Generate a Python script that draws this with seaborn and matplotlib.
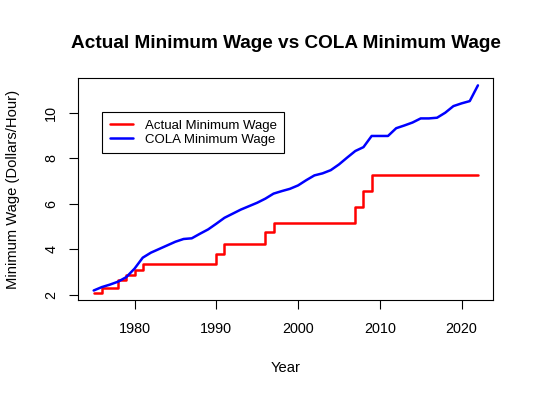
import matplotlib
matplotlib.use("Agg")
import matplotlib.pyplot as plt
import seaborn as sns
import pandas as pd

# ---- data ----
actual_years = [1975, 1976, 1978, 1979, 1980, 1981, 1990, 1991, 1996, 1997,
                2007, 2008, 2009, 2022]
actual_wage = [2.10, 2.30, 2.65, 2.90, 3.10, 3.35, 3.80, 4.25, 4.75, 5.15,
               5.85, 6.55, 7.25, 7.25]

cola_years = list(range(1975, 2023))
cola_wage = [2.20, 2.35, 2.46, 2.59, 2.79, 3.16, 3.64, 3.86, 4.02, 4.18,
             4.34, 4.46, 4.49, 4.69, 4.88, 5.13, 5.39, 5.57, 5.75, 5.90,
             6.05, 6.23, 6.45, 6.56, 6.66, 6.81, 7.04, 7.25, 7.34, 7.48,
             7.73, 8.03, 8.32, 8.49, 8.98, 8.98, 8.98, 9.32, 9.44, 9.57,
             9.75, 9.75, 9.78, 10.00, 10.29, 10.41, 10.51, 11.20]

x_ticks = [1980, 1990, 2000, 2010, 2020]
y_ticks = [2, 4, 6, 8, 10]

title = "Actual Minimum Wage vs COLA Minimum Wage"
x_label = "Year"
y_label = "Minimum Wage (Dollars/Hour)"
labels = ["Actual Minimum Wage", "COLA Minimum Wage"]

# ---- style ----
sns.set_theme(style="ticks")
plt.rcParams["font.family"] = ["Liberation Sans", "DejaVu Sans"]
plt.rcParams["axes.edgecolor"] = "black"
plt.rcParams["axes.linewidth"] = 0.8
plt.rcParams["xtick.color"] = "black"
plt.rcParams["ytick.color"] = "black"
plt.rcParams["xtick.labelcolor"] = "black"
plt.rcParams["ytick.labelcolor"] = "black"
plt.rcParams["text.color"] = "black"
plt.rcParams["axes.labelcolor"] = "black"

fig = plt.figure(figsize=(5.34, 3.98), dpi=100)
ax = fig.add_axes([78.3 / 534, 1 - 300.3 / 398, 415 / 534, 222 / 398])

df_a = pd.DataFrame({"Year": actual_years, "Wage": actual_wage})
df_c = pd.DataFrame({"Year": cola_years, "Wage": cola_wage})

sns.lineplot(data=df_a, x="Year", y="Wage", ax=ax, color="#FF0000",
             linewidth=1.8, drawstyle="steps-post", label=labels[0])
sns.lineplot(data=df_c, x="Year", y="Wage", ax=ax, color="#0000FF",
             linewidth=1.8, label=labels[1])

ax.set_xlim(1973.12, 2023.88)
ax.set_ylim(1.77, 11.51)
ax.set_xticks(x_ticks)
ax.set_xticklabels([str(t) for t in x_ticks], fontsize=10.4, color="black")
ax.set_yticks(y_ticks)
ax.set_yticklabels([str(t) for t in y_ticks], fontsize=10.4, color="black",
                   rotation=90, va="center")
ax.tick_params(axis="both", length=6.5, width=0.8, direction="out",
               colors="black")
ax.tick_params(axis="x", pad=9)
ax.tick_params(axis="y", pad=8)

for s in ax.spines.values():
    s.set_visible(True)
    s.set_color("black")
    s.set_linewidth(0.8)

ax.set_xlabel("")
ax.set_ylabel("")
fig.text(285.8 / 534, 1 - 368 / 398, x_label, ha="center", va="center",
         fontsize=10.6, color="black")
fig.text(13 / 534, 1 - 189 / 398, y_label, ha="center", va="center",
         rotation=90, fontsize=10.6, color="black")
fig.text(285.8 / 534, 1 - 43 / 398, title, ha="center", va="center",
         fontsize=13.7, fontweight="bold", color="black")

leg = ax.legend(loc="upper left",
                bbox_to_anchor=((102.3 - 78.3) / 415, (300.3 - 112.3) / 222),
                fontsize=9.5, frameon=True, fancybox=False, framealpha=1,
                edgecolor="black", borderaxespad=0, borderpad=0.55,
                handlelength=1.75, handletextpad=0.9, labelspacing=0.15)
leg.get_frame().set_linewidth(0.8)
for t in leg.get_texts():
    t.set_color("black")

fig.savefig("out.png", dpi=100, facecolor="white")
